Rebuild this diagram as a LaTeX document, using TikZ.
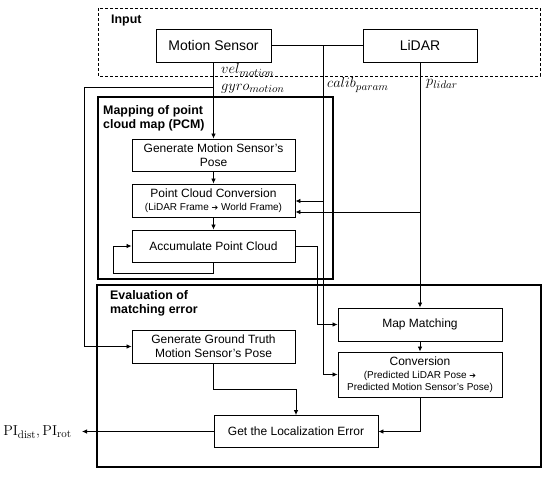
\documentclass[tikz,border=0pt]{standalone}
\usepackage[no-math]{fontspec}
\setmainfont{Liberation Sans}
\newfontfamily\symf{DejaVu Sans}
\DeclareMathSizes{14}{14}{10.5}{8}
\usetikzlibrary{arrows.meta}
\tikzset{
  box/.style={draw, line width=0.9pt, align=center, inner sep=1pt, font=\fontsize{12}{14}\selectfont},
  bigbox/.style={box, font=\fontsize{14}{16}\selectfont},
  conn/.style={line width=0.8pt},
  arr/.style={conn, -{Latex[length=5pt,width=4.5pt]}},
  grp/.style={draw, line width=1.3pt},
  grplabel/.style={font=\fontsize{12.4}{14}\selectfont\bfseries, align=left, anchor=north west, inner sep=0pt},
  mlabel/.style={anchor=west, inner sep=0pt, font=\fontsize{14}{16}\selectfont},
}
\newcommand{\smalltxt}{\fontsize{10}{11.5}\selectfont}
\newcommand{\rarr}{{\symf\fontsize{8}{10}\selectfont ➔}}
\begin{document}
\begin{tikzpicture}[x=1pt,y=-1pt]
\useasboundingbox (0,0) rectangle (550,477);
% group frames
\draw[line width=0.9pt, dash pattern=on 3pt off 2pt] (98,8) rectangle (540,76);
\node[grplabel] (inlab) at (111,15) {Input};
\draw[grp] (98,97) rectangle (333,279);
\node[grplabel] (pcmlab) at (103,105) {Mapping of point\\cloud map (PCM)};
\draw[grp] (97,285) rectangle (541,467);
\node[grplabel] (evlab) at (110,290) {Evaluation of\\matching error};
% nodes
\node[bigbox, minimum width=115pt, minimum height=33pt] (ms) at (213.5,45.5) {Motion Sensor};
\node[bigbox, minimum width=114pt, minimum height=33pt] (lidar) at (420,45.5) {LiDAR};
\node[box, minimum width=163pt, minimum height=32pt] (gmp) at (213.5,155) {Generate Motion Sensor’s\\Pose};
\node[box, minimum width=163pt, minimum height=33pt] (pcc) at (213.5,200.5) {Point Cloud Conversion\\[-1pt]{\smalltxt (LiDAR Frame \rarr\ World Frame)}};
\node[box, minimum width=163pt, minimum height=32pt] (acc) at (213.5,246) {Accumulate Point Cloud};
\node[box, minimum width=164pt, minimum height=33pt] (mm) at (420,324.5) {Map Matching};
\node[box, minimum width=164pt, minimum height=45pt] (conv) at (420,374.5) {Conversion\\[-1pt]{\smalltxt (Predicted LiDAR Pose \rarr}\\[-2pt]{\smalltxt Predicted Motion Sensor’s Pose)}};
\node[box, minimum width=163pt, minimum height=33pt] (gt) at (213.5,346.5) {Generate Ground Truth\\Motion Sensor’s Pose};
\node[box, minimum width=164pt, minimum height=32pt] (err) at (296,431.5) {Get the Localization Error};
% labels
\node[mlabel] (vel) at (221,70) {$vel_{motion}$};
\node[mlabel] (gyro) at (221,89) {$gyro_{motion}$};
\node[mlabel] (calib) at (327,85) {$calib_{param}$};
\node[mlabel] (plid) at (426,84) {$p_{lidar}$};
\node[inner sep=0pt, font=\fontsize{14}{16}\selectfont] (pi) at (37.5,432) {$\mathrm{PI}_{\mathrm{dist}}, \mathrm{PI}_{\mathrm{rot}}$};
% coordinates
\coordinate (cj) at (323,45.5);
\coordinate (mb) at (213.5,87);
\coordinate (lj) at (420,212);
\coordinate (cp) at (323,201);
\coordinate (piend) at (82,431.5);
% connectors
\draw[conn] (ms.east) -- (lidar.west);
\draw[arr] (ms.south) -- (gmp.north);
\draw[arr] (mb) -- (84,87) -- (84,346.5) -- (gt.west);
\draw[arr] (cj) -- (323,374.5) -- (conv.west);
\draw[arr] (cp) -- (pcc.east |- cp);
\draw[arr] (lidar.south) -- (mm.north);
\draw[arr] (lj) -- (pcc.east |- lj);
\draw[arr] (gmp.south) -- (pcc.north);
\draw[arr] (pcc.south) -- (acc.north);
\draw[arr] (acc.south) -- (213.5,273) -- (113,273) -- (113,246) -- (acc.west);
\draw[arr] (acc.east) -- (317,246) -- (317,324.5) -- (mm.west);
\draw[arr] (mm.south) -- (conv.north);
\draw[arr] (conv.south) -- (420,431.5) -- (err.east);
\draw[arr] (gt.south) -- (213.5,389) -- (296,389) -- (err.north);
\draw[arr] (err.west) -- (piend);
\end{tikzpicture}
\end{document}
